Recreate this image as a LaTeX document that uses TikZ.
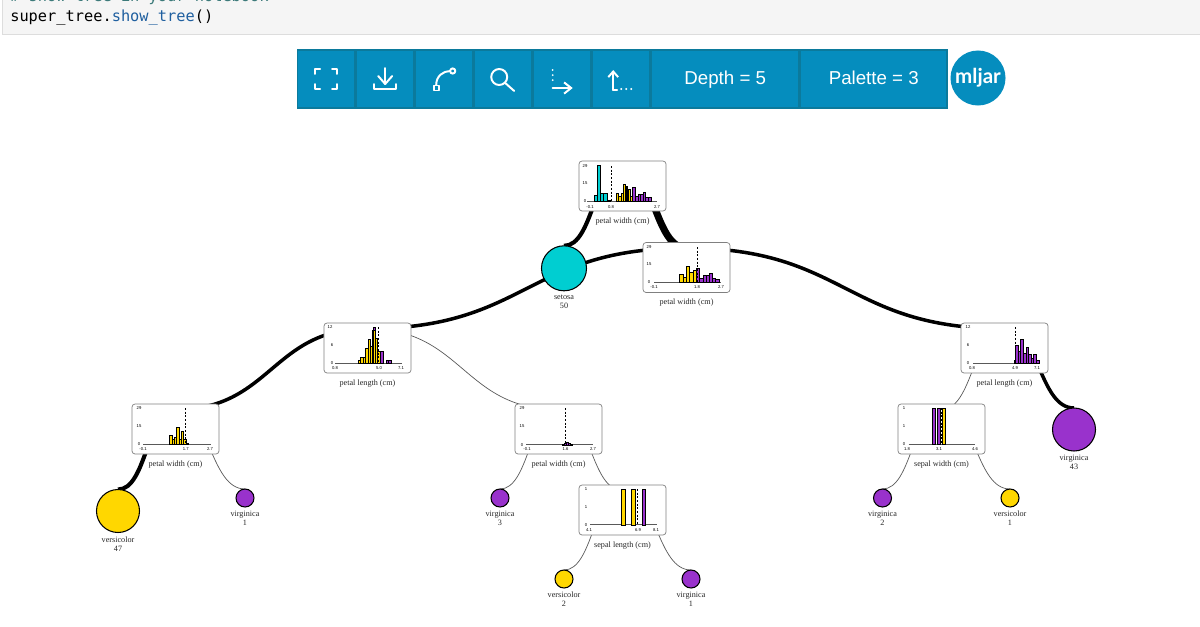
\documentclass[tikz,border=0pt]{standalone}
\usepackage{fontspec}
\usepackage{xcolor}
\usetikzlibrary{arrows.meta,positioning,backgrounds,calc}
\setmainfont{Liberation Serif}
\setsansfont{Liberation Sans}
\setmonofont{DejaVu Sans Mono}
\newfontfamily\logofont{Lato}
\definecolor{barblue}  {HTML}{058DBE}
\definecolor{barline}  {HTML}{0B7A9C}
\definecolor{cellgray} {HTML}{F5F5F5}
\definecolor{cellline} {HTML}{DDDDDD}
\definecolor{codeblue} {HTML}{1F5F9F}
\definecolor{codegreen}{HTML}{3C7A7A}
\definecolor{setcol}   {HTML}{00CED1}
\definecolor{vercol}   {HTML}{FFD700}
\definecolor{vircol}   {HTML}{9932CC}
\tikzset{
  toolbtn/.style={draw=barline,line width=1.1pt,fill=barblue,outer sep=0pt,inner sep=0pt,
    text=white,font=\sffamily\fontsize{13.3}{15}\selectfont,text height=0.82em,text depth=0pt,
    minimum width=1.436cm,minimum height=1.45cm},
  toolicon/.style={draw=white,line width=1.4pt,line cap=round,line join=round},
  histbox/.style={draw=black!50,fill=white,line width=0.5pt,rounded corners=2.2pt,
    minimum width=2.175cm,minimum height=1.25cm,inner sep=0pt,outer sep=0pt},
  axistitle/.style={font=\fontsize{5.8}{6.5}\selectfont,inner sep=0pt,text=black!85},
  ticktext/.style={font=\sffamily\fontsize{3}{3.5}\selectfont,inner sep=0pt},
  leafnode/.style={circle,draw=black,line width=0.75pt,inner sep=0pt,outer sep=0pt},
  leaftext/.style={font=\fontsize{5.8}{6.4}\selectfont,align=center,inner sep=0pt,text=black!85},
  histbar/.style={draw=black,line width=0.3pt},
  histaxis/.style={draw=black!65,line width=0.6pt},
  splitline/.style={draw=black,line width=0.7pt,dash pattern=on 1.4pt off 1.2pt},
  linkthin/.style={draw=black!65,line width=0.5pt},
  linkmid/.style={draw=black,line width=2.5pt},
  linkheavy/.style={draw=black,line width=2.9pt},
  linkwide/.style={draw=black,line width=5pt},
}
% box with its title under it
\newcommand{\histnode}[4]{
  \node[histbox] (#1) at (#2,#3) {};
  \node[axistitle,below=4.6pt of #1] (#1-title) {#4};
}
% x/y/text triples
\newcommand{\histticks}[2]{
  \foreach \tx/\ty/\tval [count=\ti] in {#2}
    \node[ticktext] (#1-tick\ti) at (\tx,\ty) {\tval};
}
% colour, first x, bar width, axis y, heights
\newcommand{\histbars}[5]{
  \foreach \hh [count=\bi from 0] in {#5}
    \draw[histbar,fill=#1] ({#2+\bi*#3},#4) rectangle ({#2+(\bi+1)*#3},{#4-\hh});
}
\newcommand{\leafnode}[6]{
  \node[leafnode,fill=#4,minimum size=#5*0.025cm] (#1) at (#2,#3) {};
  \node[leaftext,below=2.8pt of #1] (#1-text) {#6};
}
% parent to child, level at both ends; #4 = how far below the child's top
\newcommand{\treelink}[4]{
  \coordinate (linkstart) at ([yshift=-4pt]#2.north);
  \coordinate (linkend) at ([yshift=-#4]#3.north);
  \coordinate (linkmid) at ($(linkstart)!0.5!(linkend)$);
  \draw[#1] (linkstart) .. controls (linkmid |- linkstart) and (linkmid |- linkend) .. (linkend);
}
\begin{document}
\begin{tikzpicture}[x=0.025cm,y=-0.025cm]
  \useasboundingbox (0,0) rectangle (1200,626);

  % code cell
  \fill[cellgray] (2,-5) rectangle (1205,34);
  \draw[cellline,line width=0.7pt] (2,-5) -- (2,34) -- (1205,34);
  \node[anchor=west,inner sep=0pt,font=\ttfamily\fontsize{10.9}{12}\selectfont,text=codegreen]
    (cellcomment) at (10,-3) {\# show tree in your notebook};
  \node[anchor=west,inner sep=0pt,font=\ttfamily\fontsize{10.9}{12}\selectfont]
    (cellcode) at (10,17) {super\_tree.\textcolor{codeblue}{show\_tree}()};

  % toolbar
  \node[toolbtn] (btnFull) at (326.2,79) {};
  \node[toolbtn,right=1.1pt of btnFull] (btnSave) {};
  \node[toolbtn,right=1.1pt of btnSave] (btnCurve) {};
  \node[toolbtn,right=1.1pt of btnCurve] (btnSearch) {};
  \node[toolbtn,right=1.1pt of btnSearch] (btnExpand) {};
  \node[toolbtn,right=1.1pt of btnExpand] (btnDots) {};
  \node[toolbtn,minimum width=3.686cm,right=1.1pt of btnDots] (btnDepth) {Depth = 5};
  \node[toolbtn,minimum width=3.661cm,right=1.1pt of btnDepth] (btnPalette) {Palette = 3};
  \node[circle,fill=barblue,minimum size=1.375cm,inner sep=0pt,text=white,
        font=\logofont\bfseries\fontsize{14.6}{16}\selectfont] (logo) at (978,78) {mljar};

  % icons
  \begin{scope}[shift={(btnFull.center)},toolicon]
    \draw (-11,-5) -- (-11,-10) -- (-6,-10);
    \draw (6,-10) -- (11,-10) -- (11,-5);
    \draw (11,5) -- (11,10) -- (6,10);
    \draw (-6,10) -- (-11,10) -- (-11,5);
  \end{scope}
  \begin{scope}[shift={(btnSave.center)},toolicon]
    \draw (0,-11) -- (0,5);
    \draw (-7,-3) -- (0,5) -- (7,-3);
    \draw (-11,5) -- (-11,10) -- (11,10) -- (11,5);
  \end{scope}
  \begin{scope}[shift={(btnCurve.center)},toolicon]
    \draw (-8,6) .. controls (-8,-3) and (-1,-8) .. (6,-8);
    \draw[fill=barblue] (-10.5,6.5) rectangle (-5.5,11.5);
    \draw[fill=barblue] (8.5,-8) circle (2.6);
  \end{scope}
  \begin{scope}[shift={(btnSearch.center)},toolicon]
    \draw (-4,-2) circle (8);
    \draw (2,4) -- (11,12);
  \end{scope}
  \begin{scope}[shift={(btnExpand.center)},toolicon]
    \draw[dash pattern=on 0pt off 3.6pt] (-9.5,-9) -- (-9.5,5);
    \draw[-{Straight Barb[length=5pt,width=8pt]}] (-9.5,9) -- (10.5,9);
  \end{scope}
  \begin{scope}[shift={(btnDots.center)},toolicon]
    \draw[-{Straight Barb[length=4pt,width=7pt]}] (-8,11) -- (-8,-9);
    \draw (-8,11) -- (-4,11);
    \foreach \dx in {0,5,10} \fill[white] (\dx,10) circle (1.2);
  \end{scope}

  % histogram boxes
  \histnode{nRoot}{622.5}{186}{petal width (cm)}
  \draw[histaxis] (587,201.5) -- (657,201.5);
  \histbars{setcol}{594.3}{3.1}{201.5}{6,36,8,8,1}
  \histbars{vercol}{616}{2.4}{201.5}{8,5,8,17,12,12,5}
  \histbars{vircol}{626}{1.2}{201.5}{15}
  \histbars{vircol}{632.5}{2.6}{201.5}{14,5,7,7,9,4,4}
  \draw[splitline] (611.3,166) -- (611.3,201.5);
  \histticks{nRoot}{585/165.7/29,585/183.5/15,585/201.5/0,590/207/-0.1,611/207/0.8,657/207/2.7}

  \histnode{nRight}{686.5}{267.5}{petal width (cm)}
  \draw[histaxis] (654,282.3) -- (720.7,282.3);
  \histbars{vercol}{679.3}{3.4}{282.3}{8,5,16,10,12}
  \histbars{vircol}{696.3}{3.2}{282.3}{14,4,7,7,9,4,3}
  \draw[splitline] (697.7,247) -- (697.7,282.3);
  \histticks{nRight}{649/246.7/29,649/264/15,649/282.3/0,654/287.3/-0.1,697/287.3/1.8,721/287.3/2.7}

  \histnode{nLen}{367.5}{348}{petal length (cm)}
  \draw[histaxis] (335,363.3) -- (402,363.3);
  \histbars{vercol}{358.3}{2.4}{363.3}{3,6,6,15,24,17,33,25,12}
  \histbars{vircol}{373}{2.4}{363.3}{36}
  \histbars{vercol}{373}{2.4}{363.3}{33}
  \histbars{vircol}{380}{2.8}{363.3}{12}
  \histbars{vircol}{386}{2.6}{363.3}{3,3}
  \draw[splitline] (378.7,327) -- (378.7,363.3);
  \histticks{nLen}{330/327/12,332/345/6,332/363/0,335/368/0.8,379/368/5.0,401/368/7.1}

  \histnode{nLenR}{1004.5}{348}{petal length (cm)}
  \draw[histaxis] (973,363.3) -- (1039,363.3);
  \histbars{vercol}{1014}{2}{363.3}{3}
  \histbars{vircol}{1015.3}{2.6}{363.3}{18,12,24,10,16,9,5,9,3}
  \draw[splitline] (1015.3,327) -- (1015.3,345);
  \histticks{nLenR}{968/327/12,968/345/6,968/363/0,972/368/0.8,1015/368/4.9,1037/368/7.1}

  \histnode{nLeft}{175.5}{429}{petal width (cm)}
  \draw[histaxis] (143,444) -- (211,444);
  \histbars{vercol}{169.7}{2.3}{444}{9,5,7,17,5,13,5}
  \histbars{vircol}{186}{2.2}{444}{1}
  \draw[splitline] (185.3,408) -- (185.3,444);
  \histticks{nLeft}{139/408/29,139/426/15,139/444/0,143/449/-0.1,185.7/449/1.7,210/449/2.7}

  \histnode{nMid}{558.5}{429}{petal width (cm)}
  \draw[histaxis] (526,444.7) -- (593,444.7);
  \histbars{vircol}{562}{2}{444.7}{1,2,3,2}
  \histbars{vercol}{570}{2}{444.7}{1}
  \draw[splitline] (565.5,408) -- (565.5,444.7);
  \histticks{nMid}{522/408/29,522/426/15,522/444.7/0,527/449.5/-0.1,565.5/449.5/1.6,593/449.5/2.7}

  \histnode{nSep}{622.5}{510}{sepal length (cm)}
  \draw[histaxis] (590,524.7) -- (657,524.7);
  \histbars{vercol}{621.3}{4}{524.7}{36}
  \histbars{vercol}{631.3}{4}{524.7}{36}
  \histbars{vircol}{642}{3.6}{524.7}{36}
  \draw[splitline] (637.7,489) -- (637.7,524.7);
  \histticks{nSep}{586/489/1,586/507/1,586/525/0,589/530/4.1,638/530/6.9,656/530/8.1}

  \histnode{nWid}{941.5}{429}{sepal width (cm)}
  \draw[histaxis] (908.7,444) -- (975,444);
  \histbars{vircol}{932}{3.4}{444}{36}
  \histbars{vircol}{937}{3.4}{444}{36}
  \histbars{vercol}{942}{2.8}{444}{36}
  \draw[splitline] (941,408) -- (941,444);
  \histticks{nWid}{904/408/1,904/426/1,904/444/0,907/449.5/1.8,939/449.5/3.1,975/449.5/4.6}

  % leaves
  \leafnode{lSetosa}{564}{268.3}{setcol}{45}{setosa\\50}
  \leafnode{lVir43}{1074}{429.5}{vircol}{43}{virginica\\43}
  \leafnode{lVer47}{118}{511}{vercol}{43}{versicolor\\47}
  \leafnode{lVirA}{245}{498}{vircol}{18}{virginica\\1}
  \leafnode{lVirB}{500}{498}{vircol}{18}{virginica\\3}
  \leafnode{lVerA}{564}{579}{vercol}{18}{versicolor\\2}
  \leafnode{lVirC}{691}{579}{vircol}{18}{virginica\\1}
  \leafnode{lVirD}{882.5}{498}{vircol}{18}{virginica\\2}
  \leafnode{lVerB}{1010}{498}{vercol}{18}{versicolor\\1}

  % links
  \begin{scope}[on background layer]
    \treelink{linkheavy}{nRoot}{lSetosa}{0pt}
    \treelink{linkwide}{nRoot}{nRight}{4pt}
    \treelink{linkmid}{nRight}{nLen}{4pt}
    \treelink{linkmid}{nRight}{nLenR}{4pt}
    \treelink{linkmid}{nLen}{nLeft}{4pt}
    \treelink{linkthin}{nLen}{nMid}{4pt}
    \treelink{linkheavy}{nLeft}{lVer47}{0pt}
    \treelink{linkthin}{nLeft}{lVirA}{0pt}
    \treelink{linkthin}{nMid}{lVirB}{0pt}
    \treelink{linkthin}{nMid}{nSep}{4pt}
    \treelink{linkthin}{nSep}{lVerA}{0pt}
    \treelink{linkthin}{nSep}{lVirC}{0pt}
    \treelink{linkthin}{nLenR}{nWid}{4pt}
    \treelink{linkmid}{nLenR}{lVir43}{0pt}
    \treelink{linkthin}{nWid}{lVirD}{0pt}
    \treelink{linkthin}{nWid}{lVerB}{0pt}
  \end{scope}
\end{tikzpicture}
\end{document}
